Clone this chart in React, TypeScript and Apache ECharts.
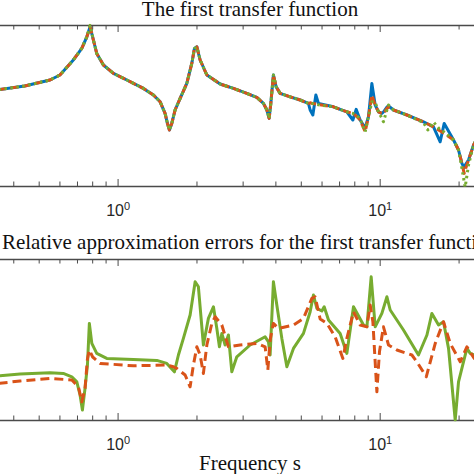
import { useEffect, useRef } from 'react';
import * as echarts from 'echarts';

// Frequency range shown on both log axes
const FREQ_MIN = 0.3544;
const FREQ_MAX = 22.8;
// Magnitude range (dB) of both panels
const DB_MIN = -80.5;
const DB_MAX = 0;

// Transfer function magnitude: original (blue) and two approximations
const topFreq = [
  0.35, 0.44, 0.55, 0.6, 0.675, 0.727, 0.76, 0.782, 0.805, 0.829,
  0.879, 0.96, 1.08, 1.249, 1.364, 1.447, 1.511, 1.543, 1.57, 1.603,
  1.65, 1.725, 1.829, 1.911, 1.956, 1.998, 2.056, 2.181, 2.451, 2.755,
  3.099, 3.383, 3.586, 3.695, 3.77, 3.826, 3.914, 4.009, 4.152, 4.534,
  4.951, 5.325, 5.405, 5.535, 5.683, 5.814, 6.634, 7.035, 7.462, 7.866,
  8.097, 8.387, 8.763, 9.022, 9.296, 9.57, 9.851, 10.15, 10.29, 10.61,
  10.76, 11.24, 12.65, 14.63, 15.2, 15.97, 16.94, 17.55, 19.05, 19.9,
  20.5, 20.92, 21.1, 21.73, 22.71, 23.25,
];
const topOriginal = [
  -32.3, -30.5, -27.5, -25, -17.5, -11.7, -5.9, -0.9, -7.5, -14.2,
  -20, -24.2, -27.5, -31.7, -35, -38.4, -44.2, -49.2, -52.5, -49.2,
  -42.5, -36.7, -29.2, -19.2, -11.7, -10.9, -17.5, -25, -29.5, -31.7,
  -34.2, -36.2, -39.2, -42.5, -46.7, -39.2, -25, -30.9, -34.2, -35.9,
  -37.5, -39.2, -42.5, -45, -35, -39.2, -40.9, -42.2, -43.4, -47.5,
  -42.2, -47.5, -51.5, -45.9, -29.2, -40, -43.4, -44.2, -43.5, -41,
  -40.5, -42.5, -45, -48.4, -49.5, -50.9, -58.4, -49.2, -57.5, -62.5,
  -69.2, -71.5, -70, -67.5, -60, -57.5,
];
const topApprox1 = [
  -32.3, -30.5, -27.5, -25, -17.5, -11.7, -5.9, -0.9, -7.5, -14.2,
  -20, -24.2, -27.5, -31.7, -35, -38.4, -44.2, -49.2, -52.5, -49.2,
  -42.5, -36.7, -29.2, -19.2, -11.7, -10.9, -17.5, -25, -29.5, -31.7,
  -34.2, -36.2, -39.2, -42.5, -46.7, -39.2, -25, -30.9, -34.2, -35.9,
  -37.5, -39.2, -38.9, -39.3, -39.5, -39.8, -40.9, -42.2, -43.4, -44.2,
  -45.5, -47.5, -53.4, -45.9, -35, -40, -43.4, -44.2, -44.5, -41.7,
  -41, -42.5, -45, -48.4, -49.5, -50.9, -53, -54.2, -57.5, -62.5,
  -69.2, -74.2, -72.5, -67.5, -60, -57.5,
];
const topApprox2 = [
  -32.3, -30.5, -27.5, -25, -17.5, -11.7, -5.9, -0.2, -7.5, -14.2,
  -20, -24.2, -27.5, -31.7, -35, -38.4, -44.2, -49.2, -52.5, -49.2,
  -42.5, -36.7, -29.2, -19.2, -11.7, -10.9, -17.5, -25, -29.5, -31.7,
  -34.2, -36.2, -39.2, -42.5, -46.7, -39.2, -25, -30.9, -34.2, -35.9,
  -37.5, -39.2, -38.9, -39.3, -39.7, -39.9, -40.9, -42.2, -43.4, -44.2,
  -45, -47, -53.4, -45.9, -38.4, -38.5, -43.5, -46.5, -48.4, -42.5,
  -40, -42.5, -45, -48.8, -52.5, -48.5, -52.5, -53.5, -57.5, -62.5,
  -71.5, -78.5, -81, -70, -60, -57.5,
];

// Relative approximation errors (dB)
const errFreq1 = [
  0.35, 0.4227, 0.55, 0.666, 0.706, 0.727, 0.748, 0.764, 0.777, 0.8,
  0.854, 1.144, 1.534, 1.626, 1.675, 1.802, 1.883, 1.938, 1.998, 2.056,
  2.116, 2.181, 2.279, 2.346, 2.488, 2.636, 2.922, 3.383, 3.64, 3.727,
  3.803, 3.914, 4.091, 4.668, 5.097, 5.487, 5.648, 5.902, 6.261, 6.732,
  7.205, 7.462, 7.91, 8.387, 8.899, 9.159, 9.379, 9.714, 9.938, 10.29,
  10.76, 11.58, 13.21, 13.81, 14.99, 16.22, 17.44, 18.5, 20.2, 21.42,
  22.85, 23.25,
];
const errApprox1 = [
  -62.2, -61, -59.7, -60.5, -63.9, -71.4, -64.7, -50, -45.5, -49,
  -52.2, -53.4, -53, -53.9, -54.7, -58, -63.9, -53, -43.9, -48,
  -57.2, -43, -32.2, -28.9, -33, -43.9, -43, -42.2, -43.9, -55.5,
  -40.5, -32.2, -34.7, -33, -29.7, -19.7, -18.9, -30, -32.2, -38.9,
  -49.7, -39.7, -26.4, -33, -33.9, -23, -31.4, -66.4, -46.4, -33.9,
  -43, -45.5, -48, -51.4, -58.9, -42.2, -31.4, -42.2, -51.4, -43.9,
  -49.7, -50,
];
const errFreq2 = [
  0.35, 0.4227, 0.55, 0.618, 0.666, 0.696, 0.716, 0.731, 0.748, 0.764,
  0.777, 0.794, 0.829, 0.905, 1.144, 1.405, 1.534, 1.64, 1.699, 1.775,
  1.883, 1.968, 2.025, 2.116, 2.211, 2.311, 2.381, 2.436, 2.488, 2.561,
  2.636, 2.716, 2.838, 3.19, 3.64, 3.747, 3.803, 3.914, 4.033, 4.215,
  4.405, 4.668, 5.097, 5.405, 5.564, 5.733, 5.99, 6.114, 6.35, 7.035,
  7.462, 7.91, 8.638, 8.899, 9.239, 9.57, 10.15, 10.61, 10.92, 12.27,
  14.0, 15.08, 15.75, 16.7, 17.44, 18.23, 19.33, 19.9, 20.79, 21.42,
  22.05, 22.85, 23.25,
];
const errApprox2 = [
  -58.4, -57.5, -56.9, -57.2, -58.9, -61.4, -68, -75.5, -64.7, -53,
  -32.2, -42.2, -47.2, -49.7, -50.2, -50.7, -52.2, -56.4, -48, -39.7,
  -28, -11.4, -13.9, -43, -29.7, -23.9, -34.7, -43.9, -37.2, -43,
  -38, -56.4, -48.9, -43, -38.9, -41.4, -48, -11.4, -23, -39.7,
  -53.9, -44.7, -37.2, -26.4, -18, -24.7, -26, -23.9, -30.5, -37.2,
  -47.2, -23.9, -33, -33.9, -8.9, -33.9, -27.2, -18.9, -25.5, -35.5,
  -48, -38, -27.2, -33, -31.4, -44.7, -80.5, -61.4, -51.4, -44.7,
  -47.2, -48, -48.5,
];

// Tick positions of the log axes
const majorTicks = [1, 10];
const minorTicks = [0.4, 0.5, 0.6, 0.7, 0.8, 0.9, 2, 3, 4, 5, 6, 7, 8, 9, 20];

const TITLE_TOP = 'The first transfer function';
const TITLE_BOTTOM = 'Relative approximation errors for the first transfer function';
const X_LABEL = 'Frequency s';

const BLUE = '#0072BD';
const ORANGE = '#D95319';
const GREEN = '#77AC30';
const AXIS_COLOR = '#4a4a4a';
const SERIF = '"Liberation Serif", "Times New Roman", serif';
const SANS = '"Liberation Sans", Arial, Helvetica, sans-serif';

const zip = (xs: number[], ys: number[]) => xs.map((x, i) => [x, ys[i]]);

function decadeLabel(v: number): string {
  const e = Math.log10(v);
  const r = Math.round(e);
  return Math.abs(e - r) < 1e-6 ? `{b|10}{e|${r}}` : '';
}

function makeXAxis(gridIndex: number, position: 'top' | 'bottom') {
  const labelled = position === 'bottom';
  return {
    type: 'log',
    logBase: 10,
    gridIndex,
    position,
    min: FREQ_MIN,
    max: FREQ_MAX,
    axisLine: { show: true, onZero: false, lineStyle: { color: AXIS_COLOR, width: 1.3 } },
    axisTick: { show: false },
    minorTick: { show: false },
    splitLine: { show: false },
    axisLabel: labelled
      ? {
          show: true,
          margin: 14,
          formatter: decadeLabel,
          showMinLabel: false,
          showMaxLabel: false,
          rich: {
            b: { fontSize: 16, fontFamily: SANS, color: '#262626', lineHeight: 20 },
            e: { fontSize: 11, fontFamily: SANS, color: '#262626', lineHeight: 12, verticalAlign: 'top' },
          },
        }
      : { show: false },
  };
}

function makeYAxis(gridIndex: number) {
  return {
    type: 'value',
    gridIndex,
    min: DB_MIN,
    max: DB_MAX,
    show: false,
    splitLine: { show: false },
  };
}

// Inward ticks on the top and bottom frame lines of one panel
function tickSeries(xAxisIndex: number, yAxisIndex: number) {
  return {
    type: 'custom',
    xAxisIndex,
    yAxisIndex,
    silent: true,
    z: 10,
    data: [...majorTicks.map((f) => [f, 1]), ...minorTicks.map((f) => [f, 0])],
    renderItem: (_params: any, api: any) => {
      const f = api.value(0);
      const len = api.value(1) === 1 ? 7 : 4.5;
      const top = api.coord([f, DB_MAX]);
      const bottom = api.coord([f, DB_MIN]);
      const style = { stroke: AXIS_COLOR, lineWidth: 1 };
      return {
        type: 'group',
        children: [
          { type: 'line', shape: { x1: top[0], y1: top[1], x2: top[0], y2: top[1] + len }, style },
          { type: 'line', shape: { x1: bottom[0], y1: bottom[1], x2: bottom[0], y2: bottom[1] - len }, style },
        ],
      };
    },
  };
}

function lineSeries(
  name: string,
  axis: number,
  data: number[][],
  color: string,
  dash: number[] | 'solid',
  z: number,
) {
  return {
    name,
    type: 'line',
    xAxisIndex: axis * 2,
    yAxisIndex: axis,
    data,
    showSymbol: false,
    symbol: 'none',
    smooth: false,
    z,
    lineStyle: { color, width: 3, type: dash, cap: 'butt', join: 'round' },
  };
}

function titleText(text: string, y: number) {
  return {
    type: 'text',
    x: 250,
    y,
    silent: true,
    style: {
      text,
      fontSize: 21,
      fontFamily: SERIF,
      fill: '#111',
      align: 'center',
      verticalAlign: 'middle',
    },
  };
}

export default function App() {
  const ref = useRef<HTMLDivElement>(null);

  useEffect(() => {
    if (!ref.current) return;
    const chart = echarts.init(ref.current, undefined, { renderer: 'svg' });
    chart.setOption({
      animation: false,
      backgroundColor: '#ffffff',
      grid: [
        { left: 0, right: 0, top: 25, height: 161, outerBoundsMode: 'none' },
        { left: 0, right: 0, top: 259, height: 161, outerBoundsMode: 'none' },
      ],
      xAxis: [
        makeXAxis(0, 'bottom'),
        makeXAxis(0, 'top'),
        makeXAxis(1, 'bottom'),
        makeXAxis(1, 'top'),
      ],
      yAxis: [makeYAxis(0), makeYAxis(1)],
      series: [
        lineSeries('Original', 0, zip(topFreq, topOriginal), BLUE, 'solid', 2),
        lineSeries('Approximation 1', 0, zip(topFreq, topApprox1), ORANGE, [8, 4], 3),
        lineSeries('Approximation 2', 0, zip(topFreq, topApprox2), GREEN, [2.5, 3.5], 4),
        lineSeries('Error 2', 1, zip(errFreq2, errApprox2), GREEN, 'solid', 2),
        lineSeries('Error 1', 1, zip(errFreq1, errApprox1), ORANGE, [9, 5], 3),
        tickSeries(0, 0),
        tickSeries(2, 1),
      ],
      graphic: [
        titleText(TITLE_TOP, 8.5),
        titleText(TITLE_BOTTOM, 242.4),
        titleText(X_LABEL, 463),
      ],
    });
    return () => chart.dispose();
  }, []);

  return (
    <div
      ref={ref}
      style={{ position: 'fixed', left: 0, top: 0, width: 474, height: 474, background: '#fff' }}
    />
  );
}
